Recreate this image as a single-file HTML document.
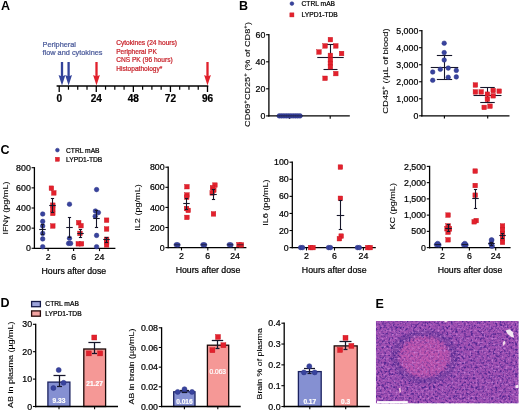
<!DOCTYPE html>
<html><head><meta charset="utf-8"><title>Figure</title>
<style>html,body{margin:0;padding:0;background:#fff}svg{display:block}text{font-family:'Liberation Sans', Arial, sans-serif}</style>
</head><body>
<svg width="520" height="411" viewBox="0 0 520 411">
<rect width="520" height="411" fill="#fff"/>
<text x="0.90" y="10.20" font-size="12.5" text-anchor="start" font-weight="bold" fill="#000"  stroke-width="0">A</text>
<text x="239.10" y="9.70" font-size="12.5" text-anchor="start" font-weight="bold" fill="#000"  stroke-width="0">B</text>
<text x="0.40" y="154.30" font-size="12.5" text-anchor="start" font-weight="bold" fill="#000"  stroke-width="0">C</text>
<text x="0.50" y="307.20" font-size="12.5" text-anchor="start" font-weight="bold" fill="#000"  stroke-width="0">D</text>
<text x="375.40" y="307.80" font-size="12.5" text-anchor="start" font-weight="bold" fill="#000"  stroke-width="0">E</text>
<text x="42.50" y="46.80" font-size="7.35" text-anchor="start" font-weight="normal" fill="#4a5a9a" stroke="#4a5a9a" stroke-width="0.22" >Peripheral</text>
<text x="42.50" y="55.00" font-size="7.35" text-anchor="start" font-weight="normal" fill="#4a5a9a" stroke="#4a5a9a" stroke-width="0.22" >flow and cytokines</text>
<text x="116.20" y="45.00" font-size="6.6" text-anchor="start" font-weight="normal" fill="#c8232b" stroke="#c8232b" stroke-width="0.22" >Cytokines (24 hours)</text>
<text x="116.20" y="53.60" font-size="6.6" text-anchor="start" font-weight="normal" fill="#c8232b" stroke="#c8232b" stroke-width="0.22" >Peripheral PK</text>
<text x="116.20" y="62.20" font-size="6.6" text-anchor="start" font-weight="normal" fill="#c8232b" stroke="#c8232b" stroke-width="0.22" >CNS PK (96 hours)</text>
<text x="116.20" y="70.80" font-size="6.6" text-anchor="start" font-weight="normal" fill="#c8232b" stroke="#c8232b" stroke-width="0.22" >Histopathology*</text>
<line x1="56.60" y1="86.00" x2="208.30" y2="86.00" stroke="#000" stroke-width="1.5" />
<line x1="59.20" y1="86.00" x2="59.20" y2="92.00" stroke="#000" stroke-width="1.3" />
<text x="59.20" y="102.30" font-size="10.1" text-anchor="middle" font-weight="bold" fill="#000" stroke="#000" stroke-width="0.22" >0</text>
<line x1="68.47" y1="86.00" x2="68.47" y2="89.70" stroke="#000" stroke-width="1.2" />
<line x1="77.74" y1="86.00" x2="77.74" y2="89.70" stroke="#000" stroke-width="1.2" />
<line x1="87.01" y1="86.00" x2="87.01" y2="89.70" stroke="#000" stroke-width="1.2" />
<line x1="96.28" y1="86.00" x2="96.28" y2="92.00" stroke="#000" stroke-width="1.3" />
<text x="96.28" y="102.30" font-size="10.1" text-anchor="middle" font-weight="bold" fill="#000" stroke="#000" stroke-width="0.22" >24</text>
<line x1="105.54" y1="86.00" x2="105.54" y2="89.70" stroke="#000" stroke-width="1.2" />
<line x1="114.81" y1="86.00" x2="114.81" y2="89.70" stroke="#000" stroke-width="1.2" />
<line x1="124.08" y1="86.00" x2="124.08" y2="89.70" stroke="#000" stroke-width="1.2" />
<line x1="133.35" y1="86.00" x2="133.35" y2="92.00" stroke="#000" stroke-width="1.3" />
<text x="133.35" y="102.30" font-size="10.1" text-anchor="middle" font-weight="bold" fill="#000" stroke="#000" stroke-width="0.22" >48</text>
<line x1="142.62" y1="86.00" x2="142.62" y2="89.70" stroke="#000" stroke-width="1.2" />
<line x1="151.89" y1="86.00" x2="151.89" y2="89.70" stroke="#000" stroke-width="1.2" />
<line x1="161.16" y1="86.00" x2="161.16" y2="89.70" stroke="#000" stroke-width="1.2" />
<line x1="170.43" y1="86.00" x2="170.43" y2="92.00" stroke="#000" stroke-width="1.3" />
<text x="170.43" y="102.30" font-size="10.1" text-anchor="middle" font-weight="bold" fill="#000" stroke="#000" stroke-width="0.22" >72</text>
<line x1="179.69" y1="86.00" x2="179.69" y2="89.70" stroke="#000" stroke-width="1.2" />
<line x1="188.96" y1="86.00" x2="188.96" y2="89.70" stroke="#000" stroke-width="1.2" />
<line x1="198.23" y1="86.00" x2="198.23" y2="89.70" stroke="#000" stroke-width="1.2" />
<line x1="207.50" y1="86.00" x2="207.50" y2="92.00" stroke="#000" stroke-width="1.3" />
<text x="207.50" y="102.30" font-size="10.1" text-anchor="middle" font-weight="bold" fill="#000" stroke="#000" stroke-width="0.22" >96</text>
<path d="M60.85,62.0 L63.15,62.0 L63.15,75.90 L65.40,75.10 L62.00,85.6 L58.60,75.10 L60.85,75.90 Z" fill="#33439a"/>
<path d="M67.45,62.0 L69.75,62.0 L69.75,75.90 L72.00,75.10 L68.60,85.6 L65.20,75.10 L67.45,75.90 Z" fill="#33439a"/>
<path d="M95.35,62.0 L97.65,62.0 L97.65,75.90 L99.90,75.10 L96.50,85.6 L93.10,75.10 L95.35,75.90 Z" fill="#e0202b"/>
<path d="M206.35,62.0 L208.65,62.0 L208.65,75.90 L210.90,75.10 L207.50,85.6 L204.10,75.10 L206.35,75.90 Z" fill="#e0202b"/>
<circle cx="291.90" cy="3.60" r="1.9" fill="#38439e" stroke="#2b3384" stroke-width="0.5"/>
<rect x="289.85" y="12.85" width="4.1" height="4.1" fill="#e3212d" stroke="#c9141f" stroke-width="0.4"/>
<text x="301.50" y="6.05" font-size="6.7" text-anchor="start" font-weight="normal" fill="#000" stroke="#000" stroke-width="0.22" >CTRL mAB</text>
<text x="301.50" y="17.35" font-size="6.7" text-anchor="start" font-weight="normal" fill="#000" stroke="#000" stroke-width="0.22" >LYPD1-TDB</text>
<circle cx="57.40" cy="150.10" r="1.9" fill="#38439e" stroke="#2b3384" stroke-width="0.5"/>
<rect x="55.35" y="157.25" width="4.1" height="4.1" fill="#e3212d" stroke="#c9141f" stroke-width="0.4"/>
<text x="66.00" y="152.55" font-size="6.7" text-anchor="start" font-weight="normal" fill="#000" stroke="#000" stroke-width="0.22" >CTRL mAB</text>
<text x="66.00" y="161.75" font-size="6.7" text-anchor="start" font-weight="normal" fill="#000" stroke="#000" stroke-width="0.22" >LYPD1-TDB</text>
<line x1="268.90" y1="34.10" x2="268.90" y2="116.55" stroke="#000" stroke-width="1.3" />
<line x1="268.25" y1="115.90" x2="349.80" y2="115.90" stroke="#000" stroke-width="1.3" />
<line x1="266.10" y1="34.70" x2="268.90" y2="34.70" stroke="#000" stroke-width="1.1" />
<text x="265.30" y="37.80" font-size="8.8" text-anchor="end" font-weight="normal" fill="#000" stroke="#000" stroke-width="0.22" >60</text>
<line x1="266.10" y1="61.80" x2="268.90" y2="61.80" stroke="#000" stroke-width="1.1" />
<text x="265.30" y="64.90" font-size="8.8" text-anchor="end" font-weight="normal" fill="#000" stroke="#000" stroke-width="0.22" >40</text>
<line x1="266.10" y1="88.80" x2="268.90" y2="88.80" stroke="#000" stroke-width="1.1" />
<text x="265.30" y="91.90" font-size="8.8" text-anchor="end" font-weight="normal" fill="#000" stroke="#000" stroke-width="0.22" >20</text>
<line x1="266.10" y1="115.90" x2="268.90" y2="115.90" stroke="#000" stroke-width="1.1" />
<text x="265.30" y="119.00" font-size="8.8" text-anchor="end" font-weight="normal" fill="#000" stroke="#000" stroke-width="0.22" >0</text>
<line x1="289.60" y1="115.90" x2="289.60" y2="118.70" stroke="#000" stroke-width="1.1" />
<line x1="330.20" y1="115.90" x2="330.20" y2="118.70" stroke="#000" stroke-width="1.1" />
<text transform="translate(249.50,74.50) rotate(-90) scale(1.2,1)" font-size="7.58" text-anchor="middle" fill="#000" stroke="#000" stroke-width="0.1">CD69<tspan font-size="5.2" dy="-2.7">+</tspan><tspan dy="2.7">&#8203;</tspan>CD25<tspan font-size="5.2" dy="-2.7">+</tspan><tspan dy="2.7">&#8203;</tspan> (% of CD8<tspan font-size="5.2" dy="-2.7">+</tspan><tspan dy="2.7">&#8203;</tspan>)</text>
<circle cx="279.30" cy="115.90" r="2.3" fill="#38439e" stroke="#2b3384" stroke-width="0.5"/>
<circle cx="281.60" cy="115.90" r="2.3" fill="#38439e" stroke="#2b3384" stroke-width="0.5"/>
<circle cx="283.90" cy="115.90" r="2.3" fill="#38439e" stroke="#2b3384" stroke-width="0.5"/>
<circle cx="286.20" cy="115.90" r="2.3" fill="#38439e" stroke="#2b3384" stroke-width="0.5"/>
<circle cx="288.50" cy="115.90" r="2.3" fill="#38439e" stroke="#2b3384" stroke-width="0.5"/>
<circle cx="290.80" cy="115.90" r="2.3" fill="#38439e" stroke="#2b3384" stroke-width="0.5"/>
<circle cx="293.10" cy="115.90" r="2.3" fill="#38439e" stroke="#2b3384" stroke-width="0.5"/>
<circle cx="295.40" cy="115.90" r="2.3" fill="#38439e" stroke="#2b3384" stroke-width="0.5"/>
<circle cx="297.70" cy="115.90" r="2.3" fill="#38439e" stroke="#2b3384" stroke-width="0.5"/>
<circle cx="300.00" cy="115.90" r="2.3" fill="#38439e" stroke="#2b3384" stroke-width="0.5"/>
<line x1="276.50" y1="115.90" x2="303.00" y2="115.90" stroke="#16162a" stroke-width="0.8" />
<line x1="317.25" y1="57.50" x2="343.75" y2="57.50" stroke="#16162a" stroke-width="1.1" />
<line x1="330.50" y1="44.50" x2="330.50" y2="69.50" stroke="#16162a" stroke-width="1.1" />
<line x1="323.50" y1="44.50" x2="337.50" y2="44.50" stroke="#16162a" stroke-width="1.1" />
<line x1="323.50" y1="69.50" x2="337.50" y2="69.50" stroke="#16162a" stroke-width="1.1" />
<rect x="328.10" y="37.30" width="4.6" height="4.6" fill="#e3212d" stroke="#c9141f" stroke-width="0.4"/>
<rect x="322.80" y="43.60" width="4.6" height="4.6" fill="#e3212d" stroke="#c9141f" stroke-width="0.4"/>
<rect x="333.50" y="43.60" width="4.6" height="4.6" fill="#e3212d" stroke="#c9141f" stroke-width="0.4"/>
<rect x="316.70" y="49.70" width="4.6" height="4.6" fill="#e3212d" stroke="#c9141f" stroke-width="0.4"/>
<rect x="339.30" y="51.20" width="4.6" height="4.6" fill="#e3212d" stroke="#c9141f" stroke-width="0.4"/>
<rect x="328.10" y="53.10" width="4.6" height="4.6" fill="#e3212d" stroke="#c9141f" stroke-width="0.4"/>
<rect x="328.10" y="57.70" width="4.6" height="4.6" fill="#e3212d" stroke="#c9141f" stroke-width="0.4"/>
<rect x="328.10" y="61.10" width="4.6" height="4.6" fill="#e3212d" stroke="#c9141f" stroke-width="0.4"/>
<rect x="328.10" y="64.50" width="4.6" height="4.6" fill="#e3212d" stroke="#c9141f" stroke-width="0.4"/>
<rect x="333.50" y="71.30" width="4.6" height="4.6" fill="#e3212d" stroke="#c9141f" stroke-width="0.4"/>
<rect x="322.80" y="76.00" width="4.6" height="4.6" fill="#e3212d" stroke="#c9141f" stroke-width="0.4"/>
<line x1="421.90" y1="30.10" x2="421.90" y2="116.45" stroke="#000" stroke-width="1.3" />
<line x1="421.25" y1="115.80" x2="509.50" y2="115.80" stroke="#000" stroke-width="1.3" />
<line x1="419.10" y1="30.70" x2="421.90" y2="30.70" stroke="#000" stroke-width="1.1" />
<text x="418.30" y="33.80" font-size="8.8" text-anchor="end" font-weight="normal" fill="#000" stroke="#000" stroke-width="0.22" >5,000</text>
<line x1="419.10" y1="47.72" x2="421.90" y2="47.72" stroke="#000" stroke-width="1.1" />
<text x="418.30" y="50.82" font-size="8.8" text-anchor="end" font-weight="normal" fill="#000" stroke="#000" stroke-width="0.22" >4,000</text>
<line x1="419.10" y1="64.74" x2="421.90" y2="64.74" stroke="#000" stroke-width="1.1" />
<text x="418.30" y="67.84" font-size="8.8" text-anchor="end" font-weight="normal" fill="#000" stroke="#000" stroke-width="0.22" >3,000</text>
<line x1="419.10" y1="81.76" x2="421.90" y2="81.76" stroke="#000" stroke-width="1.1" />
<text x="418.30" y="84.86" font-size="8.8" text-anchor="end" font-weight="normal" fill="#000" stroke="#000" stroke-width="0.22" >2,000</text>
<line x1="419.10" y1="98.78" x2="421.90" y2="98.78" stroke="#000" stroke-width="1.1" />
<text x="418.30" y="101.88" font-size="8.8" text-anchor="end" font-weight="normal" fill="#000" stroke="#000" stroke-width="0.22" >1,000</text>
<line x1="419.10" y1="115.80" x2="421.90" y2="115.80" stroke="#000" stroke-width="1.1" />
<text x="418.30" y="118.90" font-size="8.8" text-anchor="end" font-weight="normal" fill="#000" stroke="#000" stroke-width="0.22" >0</text>
<line x1="444.40" y1="115.80" x2="444.40" y2="118.60" stroke="#000" stroke-width="1.1" />
<line x1="487.70" y1="115.80" x2="487.70" y2="118.60" stroke="#000" stroke-width="1.1" />
<text transform="translate(387.50,71.00) rotate(-90) scale(1.2,1)" font-size="7.83" text-anchor="middle" fill="#000" stroke="#000" stroke-width="0.1">CD45<tspan font-size="5.2" dy="-2.7">+</tspan><tspan dy="2.7">&#8203;</tspan> (/µL of blood)</text>
<line x1="430.75" y1="67.50" x2="458.25" y2="67.50" stroke="#16162a" stroke-width="1.1" />
<line x1="444.50" y1="55.50" x2="444.50" y2="79.50" stroke="#16162a" stroke-width="1.1" />
<line x1="436.85" y1="55.50" x2="452.15" y2="55.50" stroke="#16162a" stroke-width="1.1" />
<line x1="436.85" y1="79.50" x2="452.15" y2="79.50" stroke="#16162a" stroke-width="1.1" />
<circle cx="444.20" cy="43.20" r="2.3" fill="#38439e" stroke="#2b3384" stroke-width="0.5"/>
<circle cx="444.20" cy="52.60" r="2.3" fill="#38439e" stroke="#2b3384" stroke-width="0.5"/>
<circle cx="444.20" cy="60.00" r="2.3" fill="#38439e" stroke="#2b3384" stroke-width="0.5"/>
<circle cx="440.30" cy="69.30" r="2.3" fill="#38439e" stroke="#2b3384" stroke-width="0.5"/>
<circle cx="448.20" cy="68.10" r="2.3" fill="#38439e" stroke="#2b3384" stroke-width="0.5"/>
<circle cx="432.70" cy="72.00" r="2.3" fill="#38439e" stroke="#2b3384" stroke-width="0.5"/>
<circle cx="456.30" cy="70.40" r="2.3" fill="#38439e" stroke="#2b3384" stroke-width="0.5"/>
<circle cx="432.70" cy="80.30" r="2.3" fill="#38439e" stroke="#2b3384" stroke-width="0.5"/>
<circle cx="448.20" cy="77.30" r="2.3" fill="#38439e" stroke="#2b3384" stroke-width="0.5"/>
<circle cx="456.30" cy="76.90" r="2.3" fill="#38439e" stroke="#2b3384" stroke-width="0.5"/>
<line x1="473.50" y1="95.50" x2="501.50" y2="95.50" stroke="#16162a" stroke-width="1.1" />
<line x1="487.50" y1="87.50" x2="487.50" y2="102.50" stroke="#16162a" stroke-width="1.1" />
<line x1="480.25" y1="87.50" x2="494.75" y2="87.50" stroke="#16162a" stroke-width="1.1" />
<line x1="480.25" y1="102.50" x2="494.75" y2="102.50" stroke="#16162a" stroke-width="1.1" />
<rect x="473.10" y="82.70" width="4.6" height="4.6" fill="#e3212d" stroke="#c9141f" stroke-width="0.4"/>
<rect x="473.10" y="89.60" width="4.6" height="4.6" fill="#e3212d" stroke="#c9141f" stroke-width="0.4"/>
<rect x="478.90" y="89.60" width="4.6" height="4.6" fill="#e3212d" stroke="#c9141f" stroke-width="0.4"/>
<rect x="490.90" y="88.20" width="4.6" height="4.6" fill="#e3212d" stroke="#c9141f" stroke-width="0.4"/>
<rect x="496.90" y="88.90" width="4.6" height="4.6" fill="#e3212d" stroke="#c9141f" stroke-width="0.4"/>
<rect x="490.90" y="93.50" width="4.6" height="4.6" fill="#e3212d" stroke="#c9141f" stroke-width="0.4"/>
<rect x="485.10" y="97.00" width="4.6" height="4.6" fill="#e3212d" stroke="#c9141f" stroke-width="0.4"/>
<rect x="485.10" y="91.90" width="4.6" height="4.6" fill="#e3212d" stroke="#c9141f" stroke-width="0.4"/>
<rect x="481.90" y="105.10" width="4.6" height="4.6" fill="#e3212d" stroke="#c9141f" stroke-width="0.4"/>
<rect x="487.70" y="103.90" width="4.6" height="4.6" fill="#e3212d" stroke="#c9141f" stroke-width="0.4"/>
<line x1="34.40" y1="167.10" x2="34.40" y2="248.95" stroke="#000" stroke-width="1.3" />
<line x1="33.75" y1="248.30" x2="115.40" y2="248.30" stroke="#000" stroke-width="1.3" />
<line x1="31.60" y1="167.70" x2="34.40" y2="167.70" stroke="#000" stroke-width="1.1" />
<text x="30.80" y="170.80" font-size="8.8" text-anchor="end" font-weight="normal" fill="#000" stroke="#000" stroke-width="0.22" >800</text>
<line x1="31.60" y1="187.85" x2="34.40" y2="187.85" stroke="#000" stroke-width="1.1" />
<text x="30.80" y="190.95" font-size="8.8" text-anchor="end" font-weight="normal" fill="#000" stroke="#000" stroke-width="0.22" >600</text>
<line x1="31.60" y1="208.00" x2="34.40" y2="208.00" stroke="#000" stroke-width="1.1" />
<text x="30.80" y="211.10" font-size="8.8" text-anchor="end" font-weight="normal" fill="#000" stroke="#000" stroke-width="0.22" >400</text>
<line x1="31.60" y1="228.15" x2="34.40" y2="228.15" stroke="#000" stroke-width="1.1" />
<text x="30.80" y="231.25" font-size="8.8" text-anchor="end" font-weight="normal" fill="#000" stroke="#000" stroke-width="0.22" >200</text>
<line x1="31.60" y1="248.30" x2="34.40" y2="248.30" stroke="#000" stroke-width="1.1" />
<text x="30.80" y="251.40" font-size="8.8" text-anchor="end" font-weight="normal" fill="#000" stroke="#000" stroke-width="0.22" >0</text>
<line x1="48.10" y1="248.30" x2="48.10" y2="251.10" stroke="#000" stroke-width="1.1" />
<text x="48.10" y="260.00" font-size="8.8" text-anchor="middle" font-weight="normal" fill="#000" stroke="#000" stroke-width="0.22" >2</text>
<line x1="73.60" y1="248.30" x2="73.60" y2="251.10" stroke="#000" stroke-width="1.1" />
<text x="73.60" y="260.00" font-size="8.8" text-anchor="middle" font-weight="normal" fill="#000" stroke="#000" stroke-width="0.22" >6</text>
<line x1="99.50" y1="248.30" x2="99.50" y2="251.10" stroke="#000" stroke-width="1.1" />
<text x="99.50" y="260.00" font-size="8.8" text-anchor="middle" font-weight="normal" fill="#000" stroke="#000" stroke-width="0.22" >24</text>
<text transform="translate(7.80,208.00) rotate(-90) scale(1.2,1)" font-size="7.58" text-anchor="middle" fill="#000" stroke="#000" stroke-width="0.1">IFN&#947; (pg/mL)</text>
<text x="73.90" y="273.60" font-size="8.75" text-anchor="middle" font-weight="normal" fill="#000" stroke="#000" stroke-width="0.22" >Hours after dose</text>
<circle cx="42.70" cy="214.00" r="2.3" fill="#38439e" stroke="#2b3384" stroke-width="0.5"/>
<circle cx="42.70" cy="221.40" r="2.3" fill="#38439e" stroke="#2b3384" stroke-width="0.5"/>
<circle cx="42.70" cy="226.00" r="2.3" fill="#38439e" stroke="#2b3384" stroke-width="0.5"/>
<circle cx="42.70" cy="233.40" r="2.3" fill="#38439e" stroke="#2b3384" stroke-width="0.5"/>
<circle cx="42.70" cy="238.90" r="2.3" fill="#38439e" stroke="#2b3384" stroke-width="0.5"/>
<circle cx="42.70" cy="246.70" r="2.3" fill="#38439e" stroke="#2b3384" stroke-width="0.5"/>
<line x1="39.25" y1="229.50" x2="45.75" y2="229.50" stroke="#16162a" stroke-width="1.1" />
<line x1="42.50" y1="224.50" x2="42.50" y2="234.50" stroke="#16162a" stroke-width="1.1" />
<line x1="40.90" y1="224.50" x2="44.10" y2="224.50" stroke="#16162a" stroke-width="1.1" />
<line x1="40.90" y1="234.50" x2="44.10" y2="234.50" stroke="#16162a" stroke-width="1.1" />
<rect x="49.10" y="185.90" width="4.6" height="4.6" fill="#e3212d" stroke="#c9141f" stroke-width="0.4"/>
<rect x="51.50" y="190.60" width="4.6" height="4.6" fill="#e3212d" stroke="#c9141f" stroke-width="0.4"/>
<rect x="50.50" y="202.90" width="4.6" height="4.6" fill="#e3212d" stroke="#c9141f" stroke-width="0.4"/>
<rect x="50.50" y="206.80" width="4.6" height="4.6" fill="#e3212d" stroke="#c9141f" stroke-width="0.4"/>
<rect x="50.50" y="211.10" width="4.6" height="4.6" fill="#e3212d" stroke="#c9141f" stroke-width="0.4"/>
<rect x="50.50" y="223.70" width="4.6" height="4.6" fill="#e3212d" stroke="#c9141f" stroke-width="0.4"/>
<line x1="49.25" y1="205.50" x2="55.75" y2="205.50" stroke="#16162a" stroke-width="1.1" />
<line x1="52.50" y1="198.50" x2="52.50" y2="212.50" stroke="#16162a" stroke-width="1.1" />
<line x1="50.90" y1="198.50" x2="54.10" y2="198.50" stroke="#16162a" stroke-width="1.1" />
<line x1="50.90" y1="212.50" x2="54.10" y2="212.50" stroke="#16162a" stroke-width="1.1" />
<circle cx="69.50" cy="204.20" r="2.3" fill="#38439e" stroke="#2b3384" stroke-width="0.5"/>
<circle cx="69.50" cy="238.30" r="2.3" fill="#38439e" stroke="#2b3384" stroke-width="0.5"/>
<circle cx="68.60" cy="243.40" r="2.3" fill="#38439e" stroke="#2b3384" stroke-width="0.5"/>
<circle cx="70.60" cy="243.40" r="2.3" fill="#38439e" stroke="#2b3384" stroke-width="0.5"/>
<line x1="66.25" y1="227.50" x2="72.75" y2="227.50" stroke="#16162a" stroke-width="1.1" />
<line x1="69.50" y1="217.50" x2="69.50" y2="237.50" stroke="#16162a" stroke-width="1.1" />
<line x1="67.90" y1="217.50" x2="71.10" y2="217.50" stroke="#16162a" stroke-width="1.1" />
<line x1="67.90" y1="237.50" x2="71.10" y2="237.50" stroke="#16162a" stroke-width="1.1" />
<rect x="76.40" y="220.40" width="4.6" height="4.6" fill="#e3212d" stroke="#c9141f" stroke-width="0.4"/>
<rect x="78.70" y="223.40" width="4.6" height="4.6" fill="#e3212d" stroke="#c9141f" stroke-width="0.4"/>
<rect x="77.70" y="231.10" width="4.6" height="4.6" fill="#e3212d" stroke="#c9141f" stroke-width="0.4"/>
<rect x="76.00" y="241.50" width="4.6" height="4.6" fill="#e3212d" stroke="#c9141f" stroke-width="0.4"/>
<rect x="79.20" y="241.50" width="4.6" height="4.6" fill="#e3212d" stroke="#c9141f" stroke-width="0.4"/>
<line x1="77.25" y1="233.50" x2="83.75" y2="233.50" stroke="#16162a" stroke-width="1.1" />
<line x1="80.50" y1="229.50" x2="80.50" y2="237.50" stroke="#16162a" stroke-width="1.1" />
<line x1="78.90" y1="229.50" x2="82.10" y2="229.50" stroke="#16162a" stroke-width="1.1" />
<line x1="78.90" y1="237.50" x2="82.10" y2="237.50" stroke="#16162a" stroke-width="1.1" />
<circle cx="96.60" cy="189.60" r="2.3" fill="#38439e" stroke="#2b3384" stroke-width="0.5"/>
<circle cx="95.40" cy="211.00" r="2.3" fill="#38439e" stroke="#2b3384" stroke-width="0.5"/>
<circle cx="98.40" cy="212.60" r="2.3" fill="#38439e" stroke="#2b3384" stroke-width="0.5"/>
<circle cx="95.20" cy="216.20" r="2.3" fill="#38439e" stroke="#2b3384" stroke-width="0.5"/>
<circle cx="96.60" cy="235.40" r="2.3" fill="#38439e" stroke="#2b3384" stroke-width="0.5"/>
<circle cx="96.60" cy="246.70" r="2.3" fill="#38439e" stroke="#2b3384" stroke-width="0.5"/>
<line x1="93.25" y1="218.50" x2="99.75" y2="218.50" stroke="#16162a" stroke-width="1.1" />
<line x1="96.50" y1="210.50" x2="96.50" y2="227.50" stroke="#16162a" stroke-width="1.1" />
<line x1="94.90" y1="210.50" x2="98.10" y2="210.50" stroke="#16162a" stroke-width="1.1" />
<line x1="94.90" y1="227.50" x2="98.10" y2="227.50" stroke="#16162a" stroke-width="1.1" />
<rect x="104.30" y="217.90" width="4.6" height="4.6" fill="#e3212d" stroke="#c9141f" stroke-width="0.4"/>
<rect x="104.30" y="226.70" width="4.6" height="4.6" fill="#e3212d" stroke="#c9141f" stroke-width="0.4"/>
<rect x="104.30" y="237.00" width="4.6" height="4.6" fill="#e3212d" stroke="#c9141f" stroke-width="0.4"/>
<rect x="104.30" y="239.90" width="4.6" height="4.6" fill="#e3212d" stroke="#c9141f" stroke-width="0.4"/>
<rect x="104.30" y="242.60" width="4.6" height="4.6" fill="#e3212d" stroke="#c9141f" stroke-width="0.4"/>
<line x1="103.25" y1="239.50" x2="109.75" y2="239.50" stroke="#16162a" stroke-width="1.1" />
<line x1="106.50" y1="237.50" x2="106.50" y2="242.50" stroke="#16162a" stroke-width="1.1" />
<line x1="104.90" y1="237.50" x2="108.10" y2="237.50" stroke="#16162a" stroke-width="1.1" />
<line x1="104.90" y1="242.50" x2="108.10" y2="242.50" stroke="#16162a" stroke-width="1.1" />
<line x1="168.20" y1="166.60" x2="168.20" y2="248.25" stroke="#000" stroke-width="1.3" />
<line x1="167.55" y1="247.60" x2="246.40" y2="247.60" stroke="#000" stroke-width="1.3" />
<line x1="165.40" y1="167.20" x2="168.20" y2="167.20" stroke="#000" stroke-width="1.1" />
<text x="164.60" y="170.30" font-size="8.8" text-anchor="end" font-weight="normal" fill="#000" stroke="#000" stroke-width="0.22" >800</text>
<line x1="165.40" y1="187.30" x2="168.20" y2="187.30" stroke="#000" stroke-width="1.1" />
<text x="164.60" y="190.40" font-size="8.8" text-anchor="end" font-weight="normal" fill="#000" stroke="#000" stroke-width="0.22" >600</text>
<line x1="165.40" y1="207.40" x2="168.20" y2="207.40" stroke="#000" stroke-width="1.1" />
<text x="164.60" y="210.50" font-size="8.8" text-anchor="end" font-weight="normal" fill="#000" stroke="#000" stroke-width="0.22" >400</text>
<line x1="165.40" y1="227.50" x2="168.20" y2="227.50" stroke="#000" stroke-width="1.1" />
<text x="164.60" y="230.60" font-size="8.8" text-anchor="end" font-weight="normal" fill="#000" stroke="#000" stroke-width="0.22" >200</text>
<line x1="165.40" y1="247.60" x2="168.20" y2="247.60" stroke="#000" stroke-width="1.1" />
<text x="164.60" y="250.70" font-size="8.8" text-anchor="end" font-weight="normal" fill="#000" stroke="#000" stroke-width="0.22" >0</text>
<line x1="181.50" y1="247.60" x2="181.50" y2="250.40" stroke="#000" stroke-width="1.1" />
<text x="181.50" y="259.30" font-size="8.8" text-anchor="middle" font-weight="normal" fill="#000" stroke="#000" stroke-width="0.22" >2</text>
<line x1="207.80" y1="247.60" x2="207.80" y2="250.40" stroke="#000" stroke-width="1.1" />
<text x="207.80" y="259.30" font-size="8.8" text-anchor="middle" font-weight="normal" fill="#000" stroke="#000" stroke-width="0.22" >6</text>
<line x1="235.10" y1="247.60" x2="235.10" y2="250.40" stroke="#000" stroke-width="1.1" />
<text x="235.10" y="259.30" font-size="8.8" text-anchor="middle" font-weight="normal" fill="#000" stroke="#000" stroke-width="0.22" >24</text>
<text transform="translate(140.10,207.50) rotate(-90) scale(1.2,1)" font-size="7.58" text-anchor="middle" fill="#000" stroke="#000" stroke-width="0.1">IL2 (pg/mL)</text>
<text x="208.00" y="272.90" font-size="8.75" text-anchor="middle" font-weight="normal" fill="#000" stroke="#000" stroke-width="0.22" >Hours after dose</text>
<circle cx="176.30" cy="244.70" r="2.3" fill="#38439e" stroke="#2b3384" stroke-width="0.5"/>
<circle cx="177.90" cy="244.90" r="2.3" fill="#38439e" stroke="#2b3384" stroke-width="0.5"/>
<line x1="173.90" y1="244.80" x2="180.30" y2="244.80" stroke="#16162a" stroke-width="0.8" />
<circle cx="203.00" cy="244.70" r="2.3" fill="#38439e" stroke="#2b3384" stroke-width="0.5"/>
<circle cx="204.60" cy="244.90" r="2.3" fill="#38439e" stroke="#2b3384" stroke-width="0.5"/>
<line x1="200.60" y1="244.80" x2="207.00" y2="244.80" stroke="#16162a" stroke-width="0.8" />
<circle cx="229.30" cy="244.70" r="2.3" fill="#38439e" stroke="#2b3384" stroke-width="0.5"/>
<circle cx="230.90" cy="244.90" r="2.3" fill="#38439e" stroke="#2b3384" stroke-width="0.5"/>
<line x1="226.90" y1="244.80" x2="233.30" y2="244.80" stroke="#16162a" stroke-width="0.8" />
<rect x="184.60" y="184.40" width="4.6" height="4.6" fill="#e3212d" stroke="#c9141f" stroke-width="0.4"/>
<rect x="184.60" y="192.70" width="4.6" height="4.6" fill="#e3212d" stroke="#c9141f" stroke-width="0.4"/>
<rect x="184.40" y="194.90" width="4.6" height="4.6" fill="#e3212d" stroke="#c9141f" stroke-width="0.4"/>
<rect x="184.20" y="206.20" width="4.6" height="4.6" fill="#e3212d" stroke="#c9141f" stroke-width="0.4"/>
<rect x="185.90" y="208.10" width="4.6" height="4.6" fill="#e3212d" stroke="#c9141f" stroke-width="0.4"/>
<rect x="184.60" y="215.10" width="4.6" height="4.6" fill="#e3212d" stroke="#c9141f" stroke-width="0.4"/>
<line x1="183.25" y1="203.50" x2="189.75" y2="203.50" stroke="#16162a" stroke-width="1.1" />
<line x1="186.50" y1="198.50" x2="186.50" y2="209.50" stroke="#16162a" stroke-width="1.1" />
<line x1="184.90" y1="198.50" x2="188.10" y2="198.50" stroke="#16162a" stroke-width="1.1" />
<line x1="184.90" y1="209.50" x2="188.10" y2="209.50" stroke="#16162a" stroke-width="1.1" />
<rect x="212.60" y="182.80" width="4.6" height="4.6" fill="#e3212d" stroke="#c9141f" stroke-width="0.4"/>
<rect x="210.20" y="185.40" width="4.6" height="4.6" fill="#e3212d" stroke="#c9141f" stroke-width="0.4"/>
<rect x="211.50" y="187.90" width="4.6" height="4.6" fill="#e3212d" stroke="#c9141f" stroke-width="0.4"/>
<rect x="209.90" y="190.60" width="4.6" height="4.6" fill="#e3212d" stroke="#c9141f" stroke-width="0.4"/>
<rect x="211.20" y="211.60" width="4.6" height="4.6" fill="#e3212d" stroke="#c9141f" stroke-width="0.4"/>
<line x1="210.25" y1="194.50" x2="216.75" y2="194.50" stroke="#16162a" stroke-width="1.1" />
<line x1="213.50" y1="189.50" x2="213.50" y2="199.50" stroke="#16162a" stroke-width="1.1" />
<line x1="211.90" y1="189.50" x2="215.10" y2="189.50" stroke="#16162a" stroke-width="1.1" />
<line x1="211.90" y1="199.50" x2="215.10" y2="199.50" stroke="#16162a" stroke-width="1.1" />
<rect x="236.70" y="242.40" width="4.6" height="4.6" fill="#e3212d" stroke="#c9141f" stroke-width="0.4"/>
<rect x="239.10" y="242.60" width="4.6" height="4.6" fill="#e3212d" stroke="#c9141f" stroke-width="0.4"/>
<line x1="237.00" y1="244.80" x2="243.50" y2="244.80" stroke="#16162a" stroke-width="0.8" />
<line x1="292.30" y1="161.60" x2="292.30" y2="248.35" stroke="#000" stroke-width="1.3" />
<line x1="291.65" y1="247.70" x2="375.80" y2="247.70" stroke="#000" stroke-width="1.3" />
<line x1="289.50" y1="162.20" x2="292.30" y2="162.20" stroke="#000" stroke-width="1.1" />
<text x="288.70" y="165.30" font-size="8.8" text-anchor="end" font-weight="normal" fill="#000" stroke="#000" stroke-width="0.22" >100</text>
<line x1="289.50" y1="179.28" x2="292.30" y2="179.28" stroke="#000" stroke-width="1.1" />
<text x="288.70" y="182.38" font-size="8.8" text-anchor="end" font-weight="normal" fill="#000" stroke="#000" stroke-width="0.22" >80</text>
<line x1="289.50" y1="196.36" x2="292.30" y2="196.36" stroke="#000" stroke-width="1.1" />
<text x="288.70" y="199.46" font-size="8.8" text-anchor="end" font-weight="normal" fill="#000" stroke="#000" stroke-width="0.22" >60</text>
<line x1="289.50" y1="213.44" x2="292.30" y2="213.44" stroke="#000" stroke-width="1.1" />
<text x="288.70" y="216.54" font-size="8.8" text-anchor="end" font-weight="normal" fill="#000" stroke="#000" stroke-width="0.22" >40</text>
<line x1="289.50" y1="230.52" x2="292.30" y2="230.52" stroke="#000" stroke-width="1.1" />
<text x="288.70" y="233.62" font-size="8.8" text-anchor="end" font-weight="normal" fill="#000" stroke="#000" stroke-width="0.22" >20</text>
<line x1="289.50" y1="247.60" x2="292.30" y2="247.60" stroke="#000" stroke-width="1.1" />
<text x="288.70" y="250.70" font-size="8.8" text-anchor="end" font-weight="normal" fill="#000" stroke="#000" stroke-width="0.22" >0</text>
<line x1="306.50" y1="247.70" x2="306.50" y2="250.50" stroke="#000" stroke-width="1.1" />
<text x="306.50" y="259.40" font-size="8.8" text-anchor="middle" font-weight="normal" fill="#000" stroke="#000" stroke-width="0.22" >2</text>
<line x1="334.50" y1="247.70" x2="334.50" y2="250.50" stroke="#000" stroke-width="1.1" />
<text x="334.50" y="259.40" font-size="8.8" text-anchor="middle" font-weight="normal" fill="#000" stroke="#000" stroke-width="0.22" >6</text>
<line x1="363.40" y1="247.70" x2="363.40" y2="250.50" stroke="#000" stroke-width="1.1" />
<text x="363.40" y="259.40" font-size="8.8" text-anchor="middle" font-weight="normal" fill="#000" stroke="#000" stroke-width="0.22" >24</text>
<text transform="translate(267.60,202.60) rotate(-90) scale(1.2,1)" font-size="7.58" text-anchor="middle" fill="#000" stroke="#000" stroke-width="0.1">IL6 (pg/mL)</text>
<text x="334.20" y="273.00" font-size="8.75" text-anchor="middle" font-weight="normal" fill="#000" stroke="#000" stroke-width="0.22" >Hours after dose</text>
<circle cx="300.60" cy="247.60" r="2.3" fill="#38439e" stroke="#2b3384" stroke-width="0.5"/>
<circle cx="302.60" cy="247.60" r="2.3" fill="#38439e" stroke="#2b3384" stroke-width="0.5"/>
<circle cx="328.50" cy="247.60" r="2.3" fill="#38439e" stroke="#2b3384" stroke-width="0.5"/>
<circle cx="330.50" cy="247.60" r="2.3" fill="#38439e" stroke="#2b3384" stroke-width="0.5"/>
<circle cx="357.40" cy="247.60" r="2.3" fill="#38439e" stroke="#2b3384" stroke-width="0.5"/>
<circle cx="359.40" cy="247.60" r="2.3" fill="#38439e" stroke="#2b3384" stroke-width="0.5"/>
<rect x="308.30" y="245.30" width="4.6" height="4.6" fill="#e3212d" stroke="#c9141f" stroke-width="0.4"/>
<rect x="310.70" y="245.30" width="4.6" height="4.6" fill="#e3212d" stroke="#c9141f" stroke-width="0.4"/>
<rect x="365.50" y="245.30" width="4.6" height="4.6" fill="#e3212d" stroke="#c9141f" stroke-width="0.4"/>
<rect x="367.90" y="245.30" width="4.6" height="4.6" fill="#e3212d" stroke="#c9141f" stroke-width="0.4"/>
<rect x="338.10" y="164.80" width="4.6" height="4.6" fill="#e3212d" stroke="#c9141f" stroke-width="0.4"/>
<rect x="338.10" y="196.00" width="4.6" height="4.6" fill="#e3212d" stroke="#c9141f" stroke-width="0.4"/>
<rect x="338.90" y="233.80" width="4.6" height="4.6" fill="#e3212d" stroke="#c9141f" stroke-width="0.4"/>
<rect x="337.10" y="236.40" width="4.6" height="4.6" fill="#e3212d" stroke="#c9141f" stroke-width="0.4"/>
<line x1="336.75" y1="215.50" x2="344.25" y2="215.50" stroke="#16162a" stroke-width="1.1" />
<line x1="340.50" y1="200.50" x2="340.50" y2="229.50" stroke="#16162a" stroke-width="1.1" />
<line x1="338.75" y1="200.50" x2="342.25" y2="200.50" stroke="#16162a" stroke-width="1.1" />
<line x1="338.75" y1="229.50" x2="342.25" y2="229.50" stroke="#16162a" stroke-width="1.1" />
<line x1="429.60" y1="165.80" x2="429.60" y2="248.35" stroke="#000" stroke-width="1.3" />
<line x1="428.95" y1="247.70" x2="510.60" y2="247.70" stroke="#000" stroke-width="1.3" />
<line x1="426.80" y1="166.40" x2="429.60" y2="166.40" stroke="#000" stroke-width="1.1" />
<text x="426.00" y="169.50" font-size="8.8" text-anchor="end" font-weight="normal" fill="#000" stroke="#000" stroke-width="0.22" >2,500</text>
<line x1="426.80" y1="182.64" x2="429.60" y2="182.64" stroke="#000" stroke-width="1.1" />
<text x="426.00" y="185.74" font-size="8.8" text-anchor="end" font-weight="normal" fill="#000" stroke="#000" stroke-width="0.22" >2,000</text>
<line x1="426.80" y1="198.88" x2="429.60" y2="198.88" stroke="#000" stroke-width="1.1" />
<text x="426.00" y="201.98" font-size="8.8" text-anchor="end" font-weight="normal" fill="#000" stroke="#000" stroke-width="0.22" >1,500</text>
<line x1="426.80" y1="215.12" x2="429.60" y2="215.12" stroke="#000" stroke-width="1.1" />
<text x="426.00" y="218.22" font-size="8.8" text-anchor="end" font-weight="normal" fill="#000" stroke="#000" stroke-width="0.22" >1,000</text>
<line x1="426.80" y1="231.36" x2="429.60" y2="231.36" stroke="#000" stroke-width="1.1" />
<text x="426.00" y="234.46" font-size="8.8" text-anchor="end" font-weight="normal" fill="#000" stroke="#000" stroke-width="0.22" >500</text>
<line x1="426.80" y1="247.60" x2="429.60" y2="247.60" stroke="#000" stroke-width="1.1" />
<text x="426.00" y="250.70" font-size="8.8" text-anchor="end" font-weight="normal" fill="#000" stroke="#000" stroke-width="0.22" >0</text>
<line x1="442.40" y1="247.70" x2="442.40" y2="250.50" stroke="#000" stroke-width="1.1" />
<text x="442.40" y="259.40" font-size="8.8" text-anchor="middle" font-weight="normal" fill="#000" stroke="#000" stroke-width="0.22" >2</text>
<line x1="469.40" y1="247.70" x2="469.40" y2="250.50" stroke="#000" stroke-width="1.1" />
<text x="469.40" y="259.40" font-size="8.8" text-anchor="middle" font-weight="normal" fill="#000" stroke="#000" stroke-width="0.22" >6</text>
<line x1="495.70" y1="247.70" x2="495.70" y2="250.50" stroke="#000" stroke-width="1.1" />
<text x="495.70" y="259.40" font-size="8.8" text-anchor="middle" font-weight="normal" fill="#000" stroke="#000" stroke-width="0.22" >24</text>
<text transform="translate(395.30,206.30) rotate(-90) scale(1.2,1)" font-size="7.58" text-anchor="middle" fill="#000" stroke="#000" stroke-width="0.1">KC (pg/mL)</text>
<text x="470.00" y="273.00" font-size="8.75" text-anchor="middle" font-weight="normal" fill="#000" stroke="#000" stroke-width="0.22" >Hours after dose</text>
<circle cx="436.60" cy="244.70" r="2.4" fill="#38439e" stroke="#2b3384" stroke-width="0.5"/>
<circle cx="438.80" cy="244.90" r="2.4" fill="#38439e" stroke="#2b3384" stroke-width="0.5"/>
<circle cx="437.70" cy="243.60" r="2.4" fill="#38439e" stroke="#2b3384" stroke-width="0.5"/>
<line x1="434.50" y1="244.50" x2="440.90" y2="244.50" stroke="#16162a" stroke-width="0.9" />
<circle cx="463.70" cy="244.70" r="2.4" fill="#38439e" stroke="#2b3384" stroke-width="0.5"/>
<circle cx="465.90" cy="244.90" r="2.4" fill="#38439e" stroke="#2b3384" stroke-width="0.5"/>
<circle cx="464.80" cy="243.60" r="2.4" fill="#38439e" stroke="#2b3384" stroke-width="0.5"/>
<line x1="461.60" y1="244.50" x2="468.00" y2="244.50" stroke="#16162a" stroke-width="0.9" />
<rect x="445.80" y="212.80" width="4.6" height="4.6" fill="#e3212d" stroke="#c9141f" stroke-width="0.4"/>
<rect x="445.80" y="223.60" width="4.6" height="4.6" fill="#e3212d" stroke="#c9141f" stroke-width="0.4"/>
<rect x="444.70" y="226.40" width="4.6" height="4.6" fill="#e3212d" stroke="#c9141f" stroke-width="0.4"/>
<rect x="447.20" y="226.60" width="4.6" height="4.6" fill="#e3212d" stroke="#c9141f" stroke-width="0.4"/>
<rect x="445.80" y="229.90" width="4.6" height="4.6" fill="#e3212d" stroke="#c9141f" stroke-width="0.4"/>
<rect x="445.80" y="237.50" width="4.6" height="4.6" fill="#e3212d" stroke="#c9141f" stroke-width="0.4"/>
<line x1="445.25" y1="228.50" x2="451.75" y2="228.50" stroke="#16162a" stroke-width="1.1" />
<line x1="448.50" y1="224.50" x2="448.50" y2="231.50" stroke="#16162a" stroke-width="1.1" />
<line x1="446.90" y1="224.50" x2="450.10" y2="224.50" stroke="#16162a" stroke-width="1.1" />
<line x1="446.90" y1="231.50" x2="450.10" y2="231.50" stroke="#16162a" stroke-width="1.1" />
<rect x="472.90" y="168.80" width="4.6" height="4.6" fill="#e3212d" stroke="#c9141f" stroke-width="0.4"/>
<rect x="472.90" y="183.20" width="4.6" height="4.6" fill="#e3212d" stroke="#c9141f" stroke-width="0.4"/>
<rect x="472.90" y="192.90" width="4.6" height="4.6" fill="#e3212d" stroke="#c9141f" stroke-width="0.4"/>
<rect x="473.90" y="218.30" width="4.6" height="4.6" fill="#e3212d" stroke="#c9141f" stroke-width="0.4"/>
<rect x="471.90" y="219.50" width="4.6" height="4.6" fill="#e3212d" stroke="#c9141f" stroke-width="0.4"/>
<line x1="472.25" y1="198.50" x2="478.75" y2="198.50" stroke="#16162a" stroke-width="1.1" />
<line x1="475.50" y1="189.50" x2="475.50" y2="208.50" stroke="#16162a" stroke-width="1.1" />
<line x1="473.90" y1="189.50" x2="477.10" y2="189.50" stroke="#16162a" stroke-width="1.1" />
<line x1="473.90" y1="208.50" x2="477.10" y2="208.50" stroke="#16162a" stroke-width="1.1" />
<circle cx="491.60" cy="240.00" r="2.5" fill="#38439e" stroke="#2b3384" stroke-width="0.5"/>
<circle cx="491.20" cy="243.80" r="2.5" fill="#38439e" stroke="#2b3384" stroke-width="0.5"/>
<circle cx="492.00" cy="246.00" r="2.5" fill="#38439e" stroke="#2b3384" stroke-width="0.5"/>
<line x1="488.25" y1="243.50" x2="494.75" y2="243.50" stroke="#16162a" stroke-width="1.1" />
<line x1="491.50" y1="242.50" x2="491.50" y2="245.50" stroke="#16162a" stroke-width="1.1" />
<line x1="489.90" y1="242.50" x2="493.10" y2="242.50" stroke="#16162a" stroke-width="1.1" />
<line x1="489.90" y1="245.50" x2="493.10" y2="245.50" stroke="#16162a" stroke-width="1.1" />
<rect x="500.20" y="223.70" width="4.6" height="4.6" fill="#e3212d" stroke="#c9141f" stroke-width="0.4"/>
<rect x="500.20" y="227.70" width="4.6" height="4.6" fill="#e3212d" stroke="#c9141f" stroke-width="0.4"/>
<rect x="500.20" y="231.70" width="4.6" height="4.6" fill="#e3212d" stroke="#c9141f" stroke-width="0.4"/>
<rect x="500.20" y="235.70" width="4.6" height="4.6" fill="#e3212d" stroke="#c9141f" stroke-width="0.4"/>
<rect x="500.20" y="240.00" width="4.6" height="4.6" fill="#e3212d" stroke="#c9141f" stroke-width="0.4"/>
<line x1="499.25" y1="235.50" x2="505.75" y2="235.50" stroke="#16162a" stroke-width="1.1" />
<line x1="502.50" y1="233.50" x2="502.50" y2="238.50" stroke="#16162a" stroke-width="1.1" />
<line x1="500.90" y1="233.50" x2="504.10" y2="233.50" stroke="#16162a" stroke-width="1.1" />
<line x1="500.90" y1="238.50" x2="504.10" y2="238.50" stroke="#16162a" stroke-width="1.1" />
<rect x="31.60" y="301.50" width="8.80" height="5.20" fill="#9aa2da" stroke="#141a4a" stroke-width="1.3"/>
<rect x="31.60" y="310.90" width="8.80" height="5.30" fill="#f4a4a2" stroke="#2a0c0c" stroke-width="1.3"/>
<text x="45.30" y="306.30" font-size="6.7" text-anchor="start" font-weight="normal" fill="#000" stroke="#000" stroke-width="0.22" >CTRL mAB</text>
<text x="45.30" y="315.70" font-size="6.7" text-anchor="start" font-weight="normal" fill="#000" stroke="#000" stroke-width="0.22" >LYPD1-TDB</text>
<rect x="47.90" y="382.10" width="22.00" height="24.40" fill="#8590d2" stroke="#1b2260" stroke-width="1.3"/>
<rect x="83.80" y="349.00" width="21.80" height="57.50" fill="#f59896" stroke="#1a0808" stroke-width="1.3"/>
<line x1="35.70" y1="323.70" x2="35.70" y2="407.15" stroke="#000" stroke-width="1.3" />
<line x1="35.05" y1="406.50" x2="118.00" y2="406.50" stroke="#000" stroke-width="1.3" />
<line x1="32.90" y1="324.30" x2="35.70" y2="324.30" stroke="#000" stroke-width="1.1" />
<text x="32.10" y="327.40" font-size="8.8" text-anchor="end" font-weight="normal" fill="#000" stroke="#000" stroke-width="0.22" >30</text>
<line x1="32.90" y1="351.70" x2="35.70" y2="351.70" stroke="#000" stroke-width="1.1" />
<text x="32.10" y="354.80" font-size="8.8" text-anchor="end" font-weight="normal" fill="#000" stroke="#000" stroke-width="0.22" >20</text>
<line x1="32.90" y1="379.10" x2="35.70" y2="379.10" stroke="#000" stroke-width="1.1" />
<text x="32.10" y="382.20" font-size="8.8" text-anchor="end" font-weight="normal" fill="#000" stroke="#000" stroke-width="0.22" >10</text>
<line x1="32.90" y1="406.50" x2="35.70" y2="406.50" stroke="#000" stroke-width="1.1" />
<text x="32.10" y="409.60" font-size="8.8" text-anchor="end" font-weight="normal" fill="#000" stroke="#000" stroke-width="0.22" >0</text>
<line x1="59.00" y1="406.50" x2="59.00" y2="409.30" stroke="#000" stroke-width="1.1" />
<line x1="94.60" y1="406.50" x2="94.60" y2="409.30" stroke="#000" stroke-width="1.1" />
<text transform="translate(12.60,364.70) rotate(-90) scale(1.2,1)" font-size="7.50" text-anchor="middle" fill="#000" stroke="#000" stroke-width="0.1">AB in plasma (µg/mL)</text>
<line x1="59.50" y1="375.50" x2="59.50" y2="386.50" stroke="#16162a" stroke-width="1.25" />
<line x1="53.50" y1="375.50" x2="65.50" y2="375.50" stroke="#16162a" stroke-width="1.25" />
<line x1="57.00" y1="386.50" x2="62.00" y2="386.50" stroke="#16162a" stroke-width="1.25" />
<circle cx="58.70" cy="370.00" r="2.5" fill="#38439e" stroke="#2b3384" stroke-width="0.5"/>
<circle cx="53.40" cy="388.00" r="2.5" fill="#38439e" stroke="#2b3384" stroke-width="0.5"/>
<circle cx="63.60" cy="382.80" r="2.5" fill="#38439e" stroke="#2b3384" stroke-width="0.5"/>
<line x1="94.50" y1="342.50" x2="94.50" y2="353.50" stroke="#16162a" stroke-width="1.25" />
<line x1="88.40" y1="342.50" x2="100.60" y2="342.50" stroke="#16162a" stroke-width="1.25" />
<line x1="92.00" y1="353.50" x2="97.00" y2="353.50" stroke="#16162a" stroke-width="1.25" />
<rect x="91.80" y="335.00" width="5" height="5" fill="#e3212d" stroke="#c9141f" stroke-width="0.4"/>
<rect x="86.30" y="350.90" width="5" height="5" fill="#e3212d" stroke="#c9141f" stroke-width="0.4"/>
<rect x="97.70" y="350.90" width="5" height="5" fill="#e3212d" stroke="#c9141f" stroke-width="0.4"/>
<text x="58.90" y="402.90" font-size="6.6" text-anchor="middle" font-weight="bold" fill="#fff" stroke="#fff" stroke-width="0.22" >9.33</text>
<text x="94.60" y="385.90" font-size="6.6" text-anchor="middle" font-weight="bold" fill="#fff" stroke="#fff" stroke-width="0.22" >21.27</text>
<rect x="173.70" y="391.80" width="21.30" height="14.70" fill="#8590d2" stroke="#1b2260" stroke-width="1.3"/>
<rect x="207.40" y="345.20" width="21.30" height="61.30" fill="#f59896" stroke="#1a0808" stroke-width="1.3"/>
<line x1="161.60" y1="327.20" x2="161.60" y2="407.15" stroke="#000" stroke-width="1.3" />
<line x1="160.95" y1="406.50" x2="240.70" y2="406.50" stroke="#000" stroke-width="1.3" />
<line x1="158.80" y1="327.80" x2="161.60" y2="327.80" stroke="#000" stroke-width="1.1" />
<text x="158.00" y="330.90" font-size="8.8" text-anchor="end" font-weight="normal" fill="#000" stroke="#000" stroke-width="0.22" >0.08</text>
<line x1="158.80" y1="347.48" x2="161.60" y2="347.48" stroke="#000" stroke-width="1.1" />
<text x="158.00" y="350.58" font-size="8.8" text-anchor="end" font-weight="normal" fill="#000" stroke="#000" stroke-width="0.22" >0.06</text>
<line x1="158.80" y1="367.16" x2="161.60" y2="367.16" stroke="#000" stroke-width="1.1" />
<text x="158.00" y="370.26" font-size="8.8" text-anchor="end" font-weight="normal" fill="#000" stroke="#000" stroke-width="0.22" >0.04</text>
<line x1="158.80" y1="386.84" x2="161.60" y2="386.84" stroke="#000" stroke-width="1.1" />
<text x="158.00" y="389.94" font-size="8.8" text-anchor="end" font-weight="normal" fill="#000" stroke="#000" stroke-width="0.22" >0.02</text>
<line x1="158.80" y1="406.52" x2="161.60" y2="406.52" stroke="#000" stroke-width="1.1" />
<text x="158.00" y="409.62" font-size="8.8" text-anchor="end" font-weight="normal" fill="#000" stroke="#000" stroke-width="0.22" >0.00</text>
<line x1="184.40" y1="406.50" x2="184.40" y2="409.30" stroke="#000" stroke-width="1.1" />
<line x1="217.80" y1="406.50" x2="217.80" y2="409.30" stroke="#000" stroke-width="1.1" />
<text transform="translate(134.40,366.50) rotate(-90) scale(1.2,1)" font-size="7.33" text-anchor="middle" fill="#000" stroke="#000" stroke-width="0.1">AB in brain (µg/mL)</text>
<line x1="184.50" y1="390.50" x2="184.50" y2="392.50" stroke="#16162a" stroke-width="1.25" />
<line x1="180.00" y1="390.50" x2="189.00" y2="390.50" stroke="#16162a" stroke-width="1.25" />
<line x1="182.00" y1="392.50" x2="187.00" y2="392.50" stroke="#16162a" stroke-width="1.25" />
<circle cx="177.70" cy="391.90" r="2.5" fill="#38439e" stroke="#2b3384" stroke-width="0.5"/>
<circle cx="184.50" cy="389.20" r="2.5" fill="#38439e" stroke="#2b3384" stroke-width="0.5"/>
<circle cx="192.00" cy="391.90" r="2.5" fill="#38439e" stroke="#2b3384" stroke-width="0.5"/>
<line x1="217.50" y1="340.50" x2="217.50" y2="348.50" stroke="#16162a" stroke-width="1.25" />
<line x1="211.80" y1="340.50" x2="223.20" y2="340.50" stroke="#16162a" stroke-width="1.25" />
<line x1="215.50" y1="348.50" x2="219.50" y2="348.50" stroke="#16162a" stroke-width="1.25" />
<rect x="215.50" y="334.50" width="5" height="5" fill="#e3212d" stroke="#c9141f" stroke-width="0.4"/>
<rect x="220.90" y="342.70" width="5" height="5" fill="#e3212d" stroke="#c9141f" stroke-width="0.4"/>
<rect x="209.90" y="347.70" width="5" height="5" fill="#e3212d" stroke="#c9141f" stroke-width="0.4"/>
<text x="184.40" y="404.30" font-size="6.6" text-anchor="middle" font-weight="bold" fill="#fff" stroke="#fff" stroke-width="0.22" >0.016</text>
<text x="217.80" y="373.80" font-size="6.6" text-anchor="middle" font-weight="normal" fill="#fff" stroke="#fff" stroke-width="0.22" >0.063</text>
<rect x="298.40" y="371.60" width="22.80" height="34.90" fill="#8590d2" stroke="#1b2260" stroke-width="1.3"/>
<rect x="334.20" y="345.90" width="23.00" height="60.60" fill="#f59896" stroke="#1a0808" stroke-width="1.3"/>
<line x1="284.20" y1="322.60" x2="284.20" y2="407.15" stroke="#000" stroke-width="1.3" />
<line x1="283.55" y1="406.50" x2="369.80" y2="406.50" stroke="#000" stroke-width="1.3" />
<line x1="281.40" y1="323.20" x2="284.20" y2="323.20" stroke="#000" stroke-width="1.1" />
<text x="280.60" y="326.30" font-size="8.8" text-anchor="end" font-weight="normal" fill="#000" stroke="#000" stroke-width="0.22" >0.4</text>
<line x1="281.40" y1="344.03" x2="284.20" y2="344.03" stroke="#000" stroke-width="1.1" />
<text x="280.60" y="347.13" font-size="8.8" text-anchor="end" font-weight="normal" fill="#000" stroke="#000" stroke-width="0.22" >0.3</text>
<line x1="281.40" y1="364.86" x2="284.20" y2="364.86" stroke="#000" stroke-width="1.1" />
<text x="280.60" y="367.96" font-size="8.8" text-anchor="end" font-weight="normal" fill="#000" stroke="#000" stroke-width="0.22" >0.2</text>
<line x1="281.40" y1="385.69" x2="284.20" y2="385.69" stroke="#000" stroke-width="1.1" />
<text x="280.60" y="388.79" font-size="8.8" text-anchor="end" font-weight="normal" fill="#000" stroke="#000" stroke-width="0.22" >0.1</text>
<line x1="281.40" y1="406.52" x2="284.20" y2="406.52" stroke="#000" stroke-width="1.1" />
<text x="280.60" y="409.62" font-size="8.8" text-anchor="end" font-weight="normal" fill="#000" stroke="#000" stroke-width="0.22" >0.0</text>
<line x1="309.80" y1="406.50" x2="309.80" y2="409.30" stroke="#000" stroke-width="1.1" />
<line x1="345.70" y1="406.50" x2="345.70" y2="409.30" stroke="#000" stroke-width="1.1" />
<text transform="translate(262.40,363.80) rotate(-90) scale(1.2,1)" font-size="7.33" text-anchor="middle" fill="#000" stroke="#000" stroke-width="0.1">Brain % of plasma</text>
<line x1="309.50" y1="368.50" x2="309.50" y2="373.50" stroke="#16162a" stroke-width="1.25" />
<line x1="304.00" y1="368.50" x2="315.00" y2="368.50" stroke="#16162a" stroke-width="1.25" />
<line x1="307.50" y1="373.50" x2="311.50" y2="373.50" stroke="#16162a" stroke-width="1.25" />
<circle cx="309.30" cy="366.20" r="2.5" fill="#38439e" stroke="#2b3384" stroke-width="0.5"/>
<circle cx="303.90" cy="372.40" r="2.5" fill="#38439e" stroke="#2b3384" stroke-width="0.5"/>
<circle cx="314.70" cy="372.40" r="2.5" fill="#38439e" stroke="#2b3384" stroke-width="0.5"/>
<line x1="345.50" y1="341.50" x2="345.50" y2="349.50" stroke="#16162a" stroke-width="1.25" />
<line x1="339.50" y1="341.50" x2="351.50" y2="341.50" stroke="#16162a" stroke-width="1.25" />
<line x1="343.50" y1="349.50" x2="347.50" y2="349.50" stroke="#16162a" stroke-width="1.25" />
<rect x="343.00" y="335.30" width="5" height="5" fill="#e3212d" stroke="#c9141f" stroke-width="0.4"/>
<rect x="348.90" y="343.40" width="5" height="5" fill="#e3212d" stroke="#c9141f" stroke-width="0.4"/>
<rect x="337.60" y="347.50" width="5" height="5" fill="#e3212d" stroke="#c9141f" stroke-width="0.4"/>
<text x="309.80" y="404.20" font-size="6.6" text-anchor="middle" font-weight="bold" fill="#fff" stroke="#fff" stroke-width="0.22" >0.17</text>
<text x="345.70" y="404.20" font-size="6.6" text-anchor="middle" font-weight="bold" fill="#fff" stroke="#fff" stroke-width="0.22" >0.3</text>
<defs>
<filter id="spk" x="0" y="0" width="100%" height="100%" color-interpolation-filters="sRGB">
<feTurbulence type="fractalNoise" baseFrequency="0.45" numOctaves="2" seed="7" result="n"/>
<feColorMatrix in="n" type="matrix" values="0 0 0 0 0.32  0 0 0 0 0.15  0 0 0 0 0.57  3.4 0 0 0 -1.55"/>
</filter>
<filter id="spk2" x="0" y="0" width="100%" height="100%" color-interpolation-filters="sRGB">
<feTurbulence type="fractalNoise" baseFrequency="0.5" numOctaves="2" seed="23" result="n"/>
<feColorMatrix in="n" type="matrix" values="0 0 0 0 0.80  0 0 0 0 0.52  0 0 0 0 0.85  0 2.6 0 0 -1.35"/>
</filter>
<radialGradient id="les" cx="0.5" cy="0.5" r="0.5">
<stop offset="0" stop-color="#bf55ae"/><stop offset="0.66" stop-color="#b953ad"/><stop offset="0.77" stop-color="#8646a6"/>
<stop offset="0.9" stop-color="#8244a5"/><stop offset="1" stop-color="#a050b2" stop-opacity="0"/>
</radialGradient>
<radialGradient id="mk" cx="0.5" cy="0.5" r="0.5">
<stop offset="0" stop-color="#8a8a8a"/><stop offset="0.85" stop-color="#999"/><stop offset="1" stop-color="#fff"/>
</radialGradient>
<mask id="smask" maskUnits="userSpaceOnUse" x="375.8" y="320.9" width="142.9" height="82.6">
<rect x="375.8" y="320.9" width="142.9" height="82.6" fill="#fff"/>
<ellipse cx="424.5" cy="356.8" rx="25.5" ry="20.5" fill="url(#mk)"/>
</mask>
<clipPath id="ec"><rect x="375.8" y="320.9" width="142.9" height="82.6"/></clipPath>
</defs>
<g clip-path="url(#ec)">
<rect x="375.8" y="320.9" width="142.9" height="82.6" fill="#a050b2"/>
<ellipse cx="424.5" cy="356.8" rx="36" ry="29" fill="url(#les)"/>
<g mask="url(#smask)"><rect x="375.8" y="320.9" width="142.9" height="82.6" filter="url(#spk)"/></g>
<rect x="375.8" y="320.9" width="142.9" height="82.6" filter="url(#spk2)"/>
<path d="M505.5,330.5 l4,-1.2 l3.5,3 l1,5.5 l-3,-1 l-3.5,-3 z" fill="#f3e9f3"/>
<path d="M503,342 l2,-1.5 l0.5,3 l-2.5,2.5 z" fill="#f0d8ea"/>
<path d="M515.5,385.5 l3,-1 l0,3.5 l-3,0 z" fill="#f3e9f3"/>
<path d="M399,388 l1.5,0 l0.5,4 l-1.5,1 z" fill="#f2c0d8"/>
<path d="M443,320.8 l5,0 l-2,1.8 z" fill="#f0d0e4"/>
<rect x="377" y="401.1" width="30.8" height="1.9" fill="#fff"/>
</g>
</svg>
</body></html>
